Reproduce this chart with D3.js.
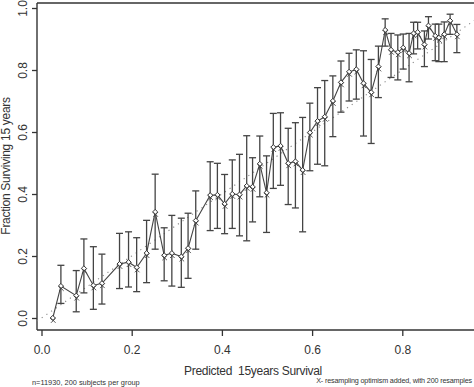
<!DOCTYPE html>
<html><head><meta charset="utf-8">
<script src="https://cdn.jsdelivr.net/npm/d3@7"></script>
<style>
html,body{margin:0;padding:0;background:#fff;}
svg{display:block;font-family:"Liberation Sans",Arial,sans-serif;}
text{white-space:pre;}
</style></head>
<body>
<svg id="chart" width="474" height="387"></svg>
<script>
// Predicted survival (x), observed fraction surviving (y), and 95% CI bounds
const predicted = [0.025,0.043,0.077,0.094,0.115,0.134,0.173,0.193,0.211,0.233,0.252,0.272,0.289,0.310,0.325,0.342,
  0.374,0.390,0.406,0.423,0.439,0.455,0.468,0.484,0.499,0.514,0.530,0.547,0.563,0.579,0.595,0.612,0.628,
  0.646,0.664,0.682,0.698,0.714,0.731,0.747,0.762,0.775,0.790,0.802,0.815,0.825,0.834,0.849,0.858,0.873,0.881,0.893,0.906,0.921];
const observed = [0.000,0.103,0.072,0.160,0.105,0.112,0.174,0.180,0.163,0.209,0.342,0.202,0.209,0.198,0.225,0.314,
  0.396,0.397,0.368,0.400,0.398,0.426,0.423,0.497,0.404,0.551,0.555,0.499,0.505,0.477,0.598,0.635,0.649,
  0.700,0.760,0.794,0.802,0.757,0.728,0.811,0.929,0.865,0.857,0.872,0.854,0.918,0.922,0.882,0.943,0.910,0.904,0.915,0.959,0.915];
const upper = [null,0.170,0.153,0.255,0.230,0.206,0.273,0.278,0.259,0.315,0.464,0.291,0.331,0.322,0.338,0.410,
  0.504,0.499,0.463,0.510,0.528,0.588,0.517,0.587,0.523,0.660,0.662,0.612,0.630,0.647,0.693,0.743,0.766,
  0.781,0.829,0.854,0.865,0.862,0.834,0.877,0.965,0.918,0.913,0.916,0.918,0.954,0.954,0.926,0.972,0.948,0.948,0.955,0.980,0.947];
const lower = [null,0.047,0.020,0.081,0.028,0.045,0.095,0.100,0.085,0.114,0.222,0.120,0.103,0.099,0.128,0.222,
  0.282,0.289,0.272,0.289,0.265,0.249,0.310,0.391,0.276,0.418,0.428,0.366,0.355,0.278,0.475,0.496,0.491,
  0.585,0.664,0.700,0.706,0.587,0.563,0.711,0.877,0.776,0.768,0.803,0.762,0.852,0.868,0.811,0.900,0.830,0.827,0.827,0.915,0.856];
const xTicks = [0.0,0.2,0.4,0.6,0.8];
const yTicks = [0.0,0.2,0.4,0.6,0.8,1.0];
const xTitle = "Predicted  15years Survival";
const yTitle = "Fraction Surviving 15 years";
const noteLeft = "n=11930, 200 subjects per group";
const noteRight = "X- resampling optimism added, with 200 resamples";

(function(){
const data = predicted.map((p,i)=>({x:p,y:observed[i],hi:upper[i],lo:lower[i]}));

const svg = d3.select("#chart");
const W = 474;
const padL = 37, padT = 3, padB = 330;
const x = d3.scaleLinear().domain([0,1]).range([41.5,492.5]);
const y = d3.scaleLinear().domain([0,1]).range([318,8]);

const ink = "#333";

// frame (left, top, bottom)
svg.append("line").attr("x1",padL).attr("x2",padL).attr("y1",padT).attr("y2",padB).attr("stroke",ink).attr("stroke-width",1.4);
svg.append("line").attr("x1",padL).attr("x2",W).attr("y1",padT).attr("y2",padT).attr("stroke",ink).attr("stroke-width",1.4);
svg.append("line").attr("x1",padL).attr("x2",W).attr("y1",padB).attr("y2",padB).attr("stroke",ink).attr("stroke-width",1.4);

// axes
const fmt = d3.format(".1f");
const gx = svg.append("g").attr("transform",`translate(0,${padB})`)
  .call(d3.axisBottom(x).tickValues(xTicks).tickSize(6).tickPadding(9).tickFormat(fmt));
gx.select(".domain").remove();
gx.selectAll("line").attr("stroke",ink).attr("stroke-width",1.3);
gx.selectAll("text").attr("font-size",12).attr("fill","#333").attr("font-family","Liberation Sans, Arial, sans-serif");

const gy = svg.append("g").attr("transform",`translate(${padL},0)`)
  .call(d3.axisLeft(y).tickValues(yTicks).tickSize(5).tickFormat(fmt));
gy.select(".domain").remove();
gy.selectAll("line").attr("stroke",ink).attr("stroke-width",1.3);
gy.selectAll("text").attr("font-size",12).attr("fill","#333").attr("font-family","Liberation Sans, Arial, sans-serif")
  .attr("x",null).attr("dy",null)
  .attr("text-anchor","middle")
  .attr("transform","translate(-10,0) rotate(-90)");

// titles
svg.append("text").attr("x",253).attr("y",375).attr("text-anchor","middle")
  .attr("font-size",12).attr("fill","#333").attr("letter-spacing","-0.3").text(xTitle);
svg.append("text").attr("transform","translate(10,166) rotate(-90)").attr("text-anchor","middle")
  .attr("font-size",12).attr("fill","#333").attr("letter-spacing","-0.3").text(yTitle);
svg.append("text").attr("x",32).attr("y",385).attr("font-size",7.4).attr("fill","#333").text(noteLeft);
svg.append("text").attr("x",472).attr("y",383).attr("text-anchor","end").attr("font-size",7.2)
  .attr("letter-spacing","-0.15").attr("fill","#333").text(noteRight);

// clip region for plot
svg.append("clipPath").attr("id","clip").append("rect").attr("x",padL).attr("y",padT).attr("width",W-padL).attr("height",padB-padT);
const plot = svg.append("g").attr("clip-path","url(#clip)");

// diagonal reference (dotted)
plot.append("line").attr("x1",x(-0.01)).attr("y1",y(-0.01)).attr("x2",x(1)).attr("y2",y(1))
  .attr("stroke","#888").attr("stroke-width",1.1).attr("stroke-dasharray","1.2,4.5");

// error bars
const eb = data.filter(d=>d.hi!==null);
const cap = 3.5;
plot.selectAll(".eb").data(eb).join("line").attr("class","eb")
  .attr("x1",d=>x(d.x)).attr("x2",d=>x(d.x)).attr("y1",d=>y(d.hi)).attr("y2",d=>y(d.lo))
  .attr("stroke","#444").attr("stroke-width",1.3);
plot.selectAll(".capT").data(eb).join("line").attr("class","capT")
  .attr("x1",d=>x(d.x)-cap).attr("x2",d=>x(d.x)+cap).attr("y1",d=>y(d.hi)).attr("y2",d=>y(d.hi))
  .attr("stroke","#444").attr("stroke-width",1.3);
plot.selectAll(".capB").data(eb).join("line").attr("class","capB")
  .attr("x1",d=>x(d.x)-cap).attr("x2",d=>x(d.x)+cap).attr("y1",d=>y(d.lo)).attr("y2",d=>y(d.lo))
  .attr("stroke","#444").attr("stroke-width",1.3);

// connecting line
plot.append("path").datum(data)
  .attr("d",d3.line().x(d=>x(d.x)).y(d=>y(d.y)))
  .attr("fill","none").attr("stroke","#444").attr("stroke-width",1.1);

// diamonds
const ds = 2.6;
plot.selectAll(".dm").data(data).join("path").attr("class","dm")
  .attr("d",d=>{const cx=x(d.x), cy=y(d.y);return `M${cx},${cy-ds}L${cx+ds},${cy}L${cx},${cy+ds}L${cx-ds},${cy}Z`;})
  .attr("fill","#fff").attr("stroke","#333").attr("stroke-width",1);

// X markers (resampling optimism added)
const xs = 2.3;
plot.selectAll(".xm").data(data).join("path").attr("class","xm")
  .attr("d",d=>{const cx=x(d.x)+0.5, cy=y(d.y)+2.5;return `M${cx-xs},${cy-xs}L${cx+xs},${cy+xs}M${cx-xs},${cy+xs}L${cx+xs},${cy-xs}`;})
  .attr("fill","none").attr("stroke","#444").attr("stroke-width",0.9);
})();
</script>
</body></html>
